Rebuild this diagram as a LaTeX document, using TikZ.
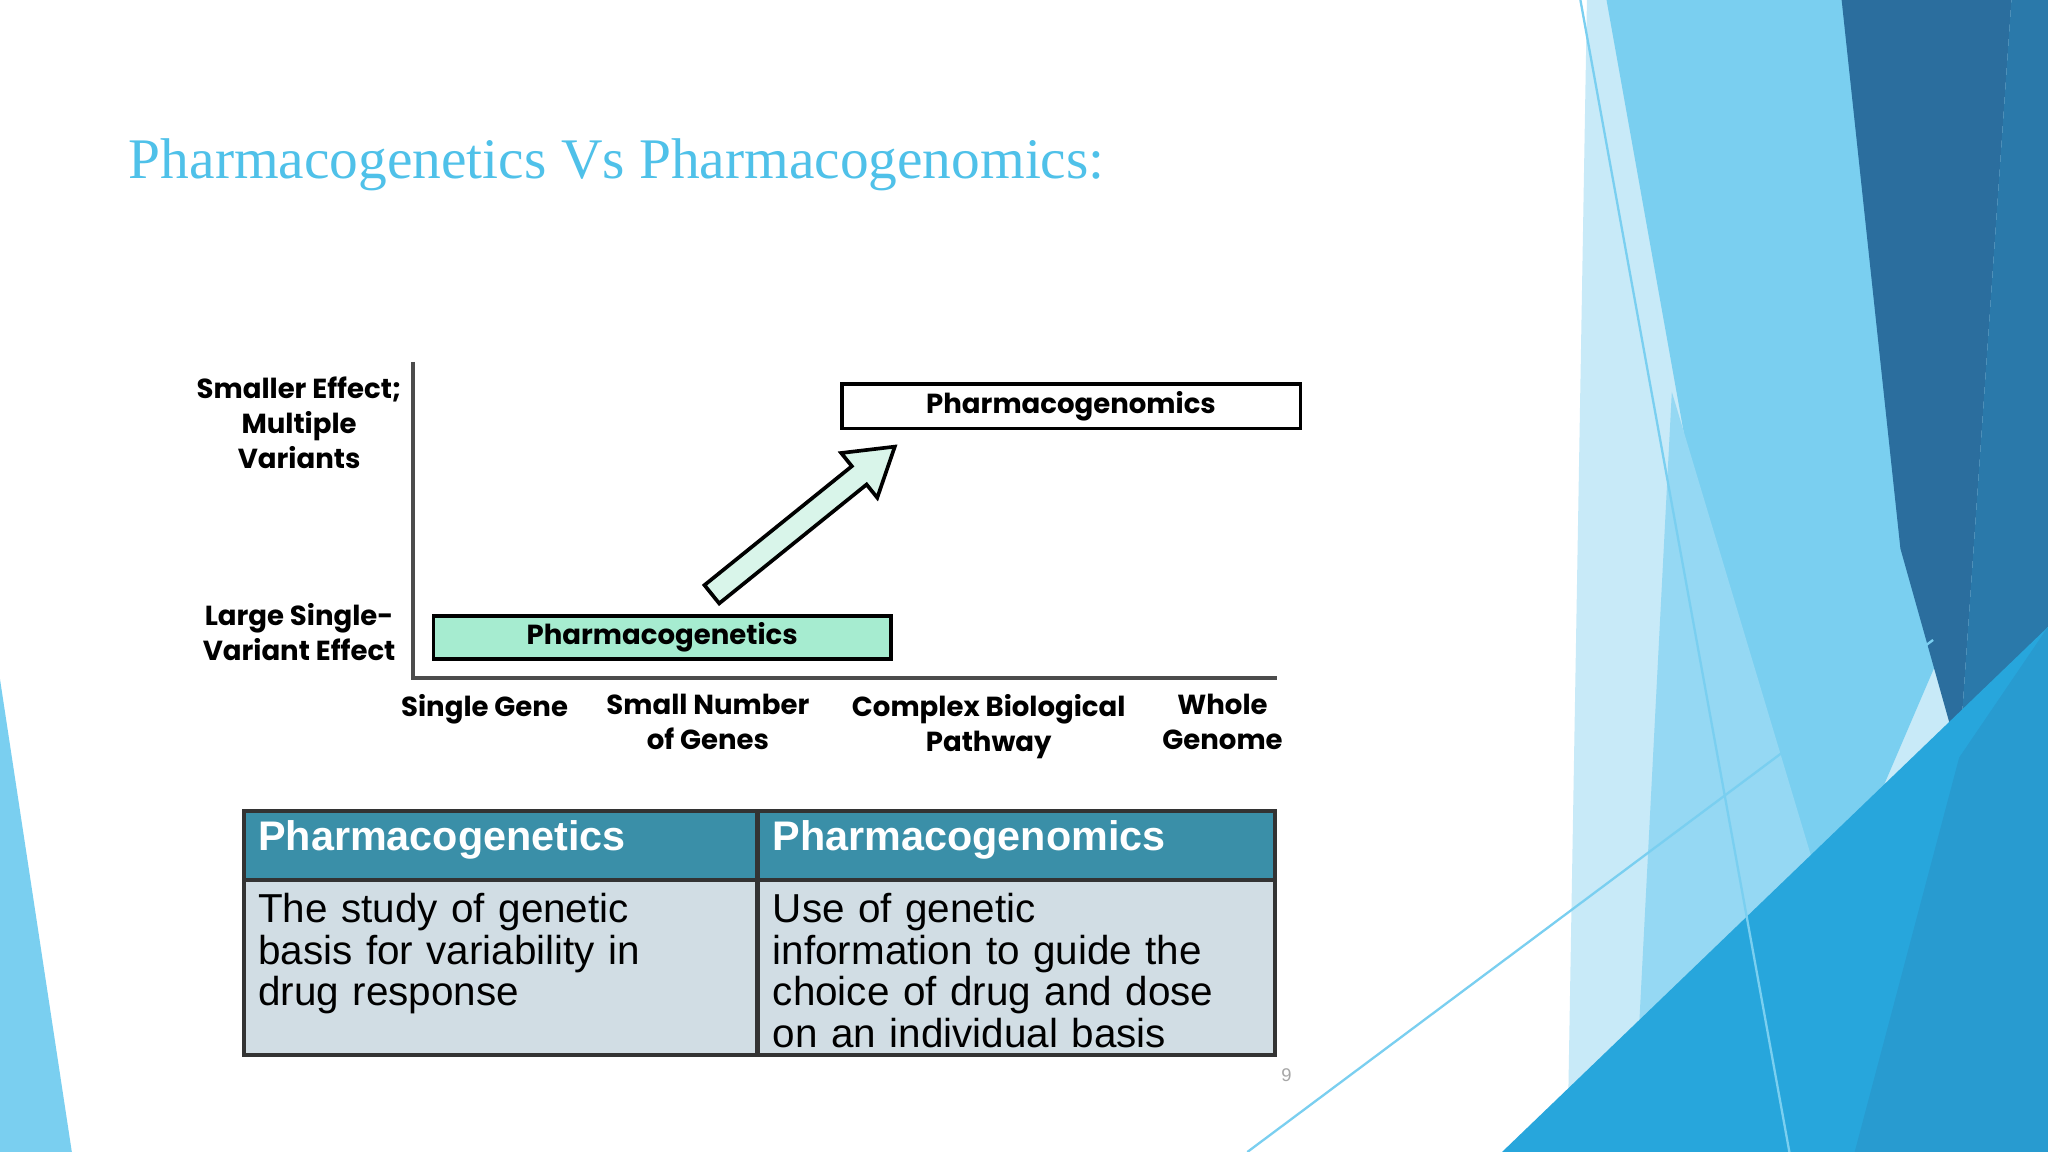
\documentclass[tikz,border=0pt]{standalone}
\usepackage{fontspec}
\setmainfont{Liberation Serif}
\newfontfamily\chartfont{Poppins}
\newfontfamily\tabfont{Liberation Sans}
\definecolor{titleblue}{HTML}{4FC1E9}
\definecolor{pale}{HTML}{C8EAF8}
\definecolor{midb}{HTML}{7ACFF0}
\definecolor{darkb}{HTML}{2B6E9E}
\definecolor{brightb}{HTML}{27A6DC}
\definecolor{genetics}{HTML}{A6ECD0}
\definecolor{arrowfill}{HTML}{D9F5EA}
\definecolor{tabhead}{HTML}{3A8FA8}
\definecolor{tabbody}{HTML}{D1DDE4}
\tikzset{
 lab/.style={font=\chartfont\bfseries\fontsize{6}{7.6}\selectfont, align=center, inner sep=0},
 tabtxt/.style={font=\tabfont\fontsize{8.8}{9.1}\selectfont, align=left, anchor=north west, inner sep=0, text width=3.8cm},
 tabhd/.style={font=\tabfont\bfseries\fontsize{9}{9.1}\selectfont, text=white, anchor=west, inner sep=0}
}
\begin{document}
\begin{tikzpicture}[x=0.01cm,y=-0.01cm]
\useasboundingbox (0,0) rectangle (1568,882);
\fill[white] (0,0) rectangle (1568,882);
\fill[pale] (1215,0) -- (1568,0) -- (1568,882) -- (1200,882) -- cycle;
\fill[midb] (1230,0) -- (1410,0) -- (1490,490) -- (1400,700) -- (1330,560) -- cycle;
\fill[midb!80!white] (1280,300) -- (1400,700) -- (1300,882) -- (1250,882) -- cycle;
\fill[darkb] (1410,0) -- (1540,0) -- (1500,580) -- (1455,420) -- cycle;
\fill[darkb!80!brightb] (1540,0) -- (1568,0) -- (1568,480) -- (1500,580) -- cycle;
\fill[brightb] (1150,882) -- (1568,480) -- (1568,882) -- cycle;
\fill[brightb!80!darkb] (1420,882) -- (1500,580) -- (1568,480) -- (1568,882) -- cycle;
\fill[midb] (0,520) -- (55,882) -- (0,882) -- cycle;
\draw[midb, line width=0.5pt] (1210,0) -- (1370,882);
\draw[midb, line width=0.5pt] (955,882) -- (1480,490);
\node[anchor=west, text=titleblue, font=\fontsize{12.5}{14}\selectfont, inner sep=0] (title) at (98,126) {Pharmacogenetics Vs Pharmacogenomics:};
\coordinate (o) at (316,519);
\coordinate (ytop) at (316,277);
\coordinate (xend) at (978,519);
\draw[black!70, line width=0.8pt] (ytop) -- (o) -- (xend);
\node[draw, line width=0.8pt, fill=white, minimum width=3.51cm, minimum height=0.34cm, lab] (pgx) at (820,311) {Pharmacogenomics};
\node[draw, line width=0.8pt, fill=genetics, minimum width=3.5cm, minimum height=0.33cm, lab] (pgt) at (507,488) {Pharmacogenetics};
\begin{scope}[shift={(545,455)}, rotate=38.9]
\filldraw[fill=arrowfill, draw=black, line width=0.8pt] (0,-9) -- (145,-9) -- (145,-22) -- (180,0) -- (145,22) -- (145,9) -- (0,9) -- cycle;
\end{scope}
\node[lab] (y1) at (229,324) {Smaller Effect;\\Multiple\\Variants};
\node[lab] (y2) at (229,484) {Large Single-\\Variant Effect};
\node[lab, anchor=north] (x1) at (371,531) {Single Gene};
\node[lab, anchor=north] (x2) at (542,531) {Small Number\\of Genes};
\node[lab, anchor=north] (x3) at (757,531) {Complex Biological\\Pathway};
\node[lab, anchor=north] (x4) at (936,531) {Whole\\Genome};
\fill[tabhead] (187,621) rectangle (976,674);
\fill[tabbody] (187,674) rectangle (976,808);
\draw[black!80, line width=0.9pt] (187,621) rectangle (976,808);
\draw[black!80, line width=0.9pt] (187,674) -- (976,674);
\draw[black!80, line width=0.9pt] (580,621) -- (580,808);
\node[tabhd] (h1) at (197,643) {Pharmacogenetics};
\node[tabhd] (h2) at (591,643) {Pharmacogenomics};
\node[tabtxt] (b1) at (197,683) {The study of genetic\\basis for variability in\\drug response};
\node[tabtxt] (b2) at (591,683) {Use of genetic\\information to guide the\\choice of drug and dose\\on an individual basis};
\node[font=\tabfont\fontsize{4}{4}\selectfont, text=black!35, inner sep=0] (pn) at (985,823) {9};
\end{tikzpicture}
\end{document}
